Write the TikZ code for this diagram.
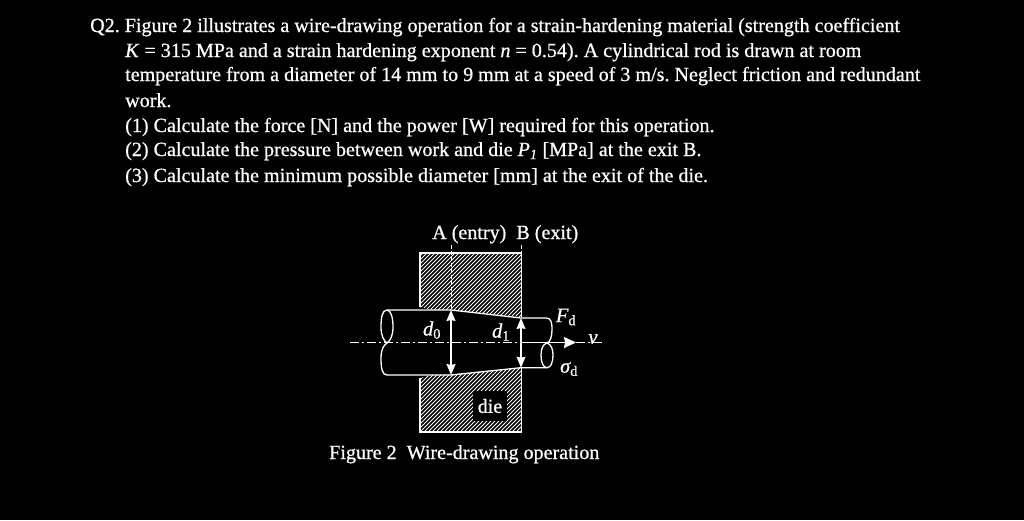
\documentclass[tikz,border=0pt]{standalone}
\usepackage{fontspec}
\setmainfont[RawFeature={embolden=0.7}]{Liberation Serif}
\usetikzlibrary{arrows.meta}
\tikzset{x=1pt,y=-1pt,
 txt/.style={anchor=base west,inner sep=0,font=\fontsize{20.08}{22}\selectfont\frenchspacing,text=white},
 math/.style={anchor=center,inner sep=0,font=\fontsize{20.5}{22}\selectfont\itshape,text=white},
 ln/.style={draw=white,line width=1.3pt},
 cen/.style={draw=white,line width=1.2pt,dash pattern=on 9pt off 3pt on 2pt off 3pt},
 dimarr/.style={draw=white,line width=1.2pt,{Stealth[length=11pt,width=9pt,inset=1pt]}-{Stealth[length=11pt,width=9pt,inset=1pt]}},
 hatch/.style={draw=white,line width=.9pt}}
\begin{document}
\begin{tikzpicture}
\useasboundingbox (0,0) rectangle (1024,520);
\fill[black] (0,0) rectangle (1024,520);
% text
\node[txt] (l1) at (90,32) {Q2. Figure 2 illustrates a wire-drawing operation for a strain-hardening material (strength coefficient};
\node[txt] (l2) at (125,57) {\textit{K} = 315 MPa and a strain hardening exponent \textit{n} = 0.54). A cylindrical rod is drawn at room};
\node[txt] (l3) at (125,81) {temperature from a diameter of 14 mm to 9 mm at a speed of 3 m/s. Neglect friction and redundant};
\node[txt] (l4) at (125,107) {work.};
\node[txt] (l5) at (125,132) {(1) Calculate the force [N] and the power [W] required for this operation.};
\node[txt] (l6) at (125,156) {(2) Calculate the pressure between work and die \textit{P\textsubscript{1}} [MPa] at the exit B.};
\node[txt] (l7) at (125,182) {(3) Calculate the minimum possible diameter [mm] at the exit of the die.};
\node[txt] (capt) at (329,459) {Figure 2\ \ Wire-drawing operation};
\node[txt] (la) at (432,239) {A (entry)\ \ B (exit)};
% die hatch
\begin{scope}
\clip (420,253) -- (521.5,253) -- (521.5,317) -- (451,310) -- (432,310) -- (420,307) -- cycle
      (420,378) -- (432,375) -- (451,374.5) -- (521.5,367.7) -- (521.5,432) -- (420,432) -- cycle;
\foreach \k in {0,4,...,320} {\draw[hatch] (400+\k,240) -- ++(-200,200);}
\end{scope}
\draw[ln] (420,307) -- (420,253) -- (521.5,253) -- (521.5,317);
\draw[ln] (420,378) -- (420,432) -- (521.5,432) -- (521.5,367.7);
\node[fill=black,minimum width=34pt,minimum height=30pt,inner sep=0,text=white,font=\fontsize{20}{22}\selectfont] (die) at (490,406) {die};
% rod
\draw[ln] (387,310) -- (451,310) -- (521,318) -- (546,318) .. controls (551,318) and (552,322) .. (552,330) .. controls (552,337) and (550,342) .. (547,343);
\draw[ln] (387,375) -- (451,375) -- (521,367.7) -- (547,367.7);
\draw[ln] (387,310) .. controls (382,310) and (381,318) .. (381,327) .. controls (381,336) and (384,341) .. (387,343) .. controls (384,345) and (381,349) .. (381,358) .. controls (381,368) and (382,375) .. (387,375);
\draw[ln] (387,310) .. controls (391,310) and (393,318) .. (393,327) .. controls (393,336) and (390,341) .. (387,343);
\draw[ln] (547,343) .. controls (543,344) and (541,349) .. (541,355) .. controls (541,362) and (543,367.7) .. (547,367.7) .. controls (551,367.7) and (553,362) .. (553,355) .. controls (553,349) and (551,344) .. (547,343);
% lines
\coordinate (cl) at (350,342.5);
\coordinate (cm) at (521,342.5);
\coordinate (ar) at (576,342.5);
\coordinate (ce) at (602,342.5);
\draw[cen] (cl) -- (cm);
\draw[draw=white,line width=1.2pt,-{Stealth[length=12pt,width=11pt,inset=1pt]}] (cm) -- (ar);
\draw[cen] (ar) -- (ce);
\coordinate (at) at (451,245); \coordinate (a0) at (451,310); \coordinate (a1) at (451,375);
\coordinate (bt) at (521,245); \coordinate (b0) at (521,318); \coordinate (b1) at (521,367.7);
\draw[draw=white,line width=1pt,dash pattern=on 4pt off 2pt] (at) -- (a0);
\draw[draw=white,line width=1pt,dash pattern=on 4pt off 2pt] (bt) -- (521,253);
\draw[dimarr] (a0) -- (a1);
\draw[dimarr] (b0) -- (b1);
% labels
\node[math] (d0) at (432,330) {d\textsubscript{\upshape 0}};
\node[math] (d1) at (501,332) {d\textsubscript{\upshape 1}};
\node[math] (Fd) at (566,317) {F\textsubscript{\upshape d}};
\node[math] (sd) at (569,369) {σ\textsubscript{\upshape d}};
\node[math] (vv) at (593,339) {v};
\end{tikzpicture}
\end{document}
